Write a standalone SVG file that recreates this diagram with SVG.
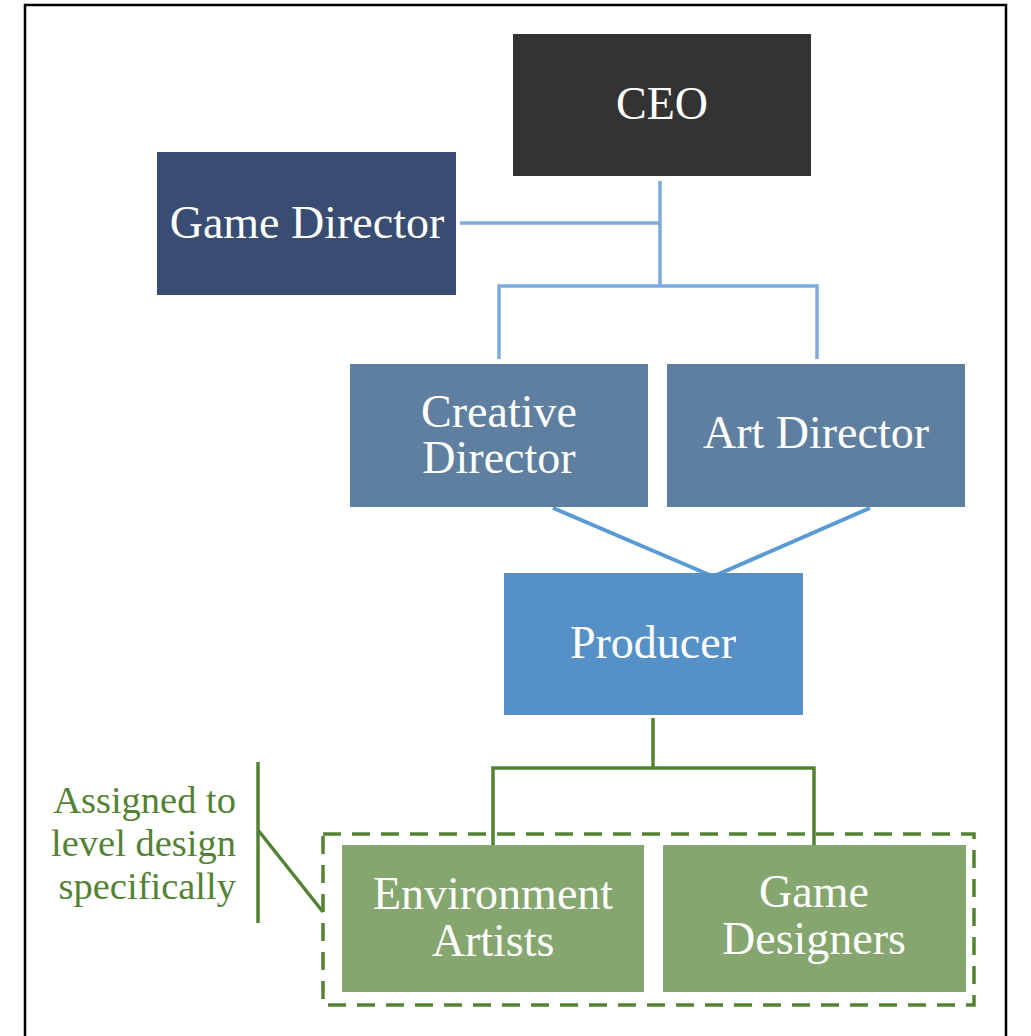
<svg xmlns="http://www.w3.org/2000/svg" width="1031" height="1036" viewBox="0 0 1031 1036">
<style>
.lbl{font-family:"Liberation Serif","Times New Roman",serif;font-size:46px;fill:#ffffff;text-anchor:middle}
.note{font-family:"Liberation Serif","Times New Roman",serif;font-size:38.5px;fill:#548235;text-anchor:end}
.bl{fill:none;stroke:#7faadb;stroke-width:3.5}
.bl2{fill:none;stroke:#5b9bd5;stroke-width:4}
.gr{fill:none;stroke:#548235;stroke-width:3.5}
</style>
<rect x="0" y="0" width="1031" height="1036" fill="#ffffff"/>
<rect x="25" y="5" width="981" height="1040" fill="none" stroke="#000000" stroke-width="2.5"/>
<g id="connectors">
<path class="bl" d="M660 181 V286 M460 223 H660 M499 359 V286 H817 V359"/>
<path class="bl2" d="M553 508 L712 576 M870 508 L714 576"/>
<path class="gr" d="M653 718 V768 M493 845 V768 H814 V845"/>
<path class="gr" d="M258 762 V923 M258 830 L323 912"/>
<rect x="323" y="834" width="651" height="171" fill="none" stroke="#548235" stroke-width="3.5" stroke-dasharray="18 11"/>
</g>
<g id="ceo">
<rect x="513" y="34" width="298" height="142" fill="#333333"/>
<text class="lbl" x="662" y="119">CEO</text>
</g>
<g id="game-director">
<rect x="157" y="152" width="299" height="143" fill="#384d71"/>
<text class="lbl" x="307" y="238">Game Director</text>
</g>
<g id="creative-director">
<rect x="350" y="364" width="298" height="143" fill="#5f7fa0"/>
<text class="lbl" x="499" y="427">Creative</text>
<text class="lbl" x="499" y="473">Director</text>
</g>
<g id="art-director">
<rect x="667" y="364" width="298" height="143" fill="#5f7fa0"/>
<text class="lbl" x="816" y="448">Art Director</text>
</g>
<g id="producer">
<rect x="504" y="573" width="299" height="142" fill="#5591c7"/>
<text class="lbl" x="653" y="658">Producer</text>
</g>
<g id="environment-artists">
<rect x="342" y="845" width="302" height="147" fill="#86a66f"/>
<text class="lbl" x="493" y="909">Environment</text>
<text class="lbl" x="493" y="956">Artists</text>
</g>
<g id="game-designers">
<rect x="663" y="845" width="303" height="147" fill="#86a66f"/>
<text class="lbl" x="814" y="907">Game</text>
<text class="lbl" x="814" y="954">Designers</text>
</g>
<g id="annotation">
<text class="note" x="236" y="813">Assigned to</text>
<text class="note" x="236" y="856">level design</text>
<text class="note" x="236" y="899">specifically</text>
</g>
</svg>
